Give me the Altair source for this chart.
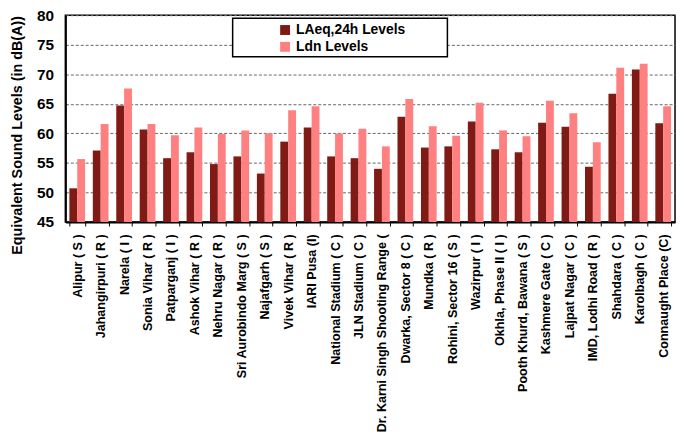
import altair as alt
import pandas as pd

stations = [
    "Alipur ( S )", "Jahangirpuri ( R )", "Narela ( I )", "Sonia Vihar ( R )",
    "Patparganj ( I )", "Ashok Vihar ( R )", "Nehru Nagar ( R )",
    "Sri Aurobindo Marg ( S )", "Najafgarh ( S )", "Vivek Vihar ( R )",
    "IARI Pusa (I)", "National Stadium ( C )", "JLN Stadium ( C )",
    "Dr. Karni Singh Shooting Range (", "Dwarka, Sector 8 ( C )", "Mundka ( R )",
    "Rohini, Sector 16 ( S )", "Wazirpur ( I )", "Okhla, Phase II ( I )",
    "Pooth Khurd, Bawana ( S )", "Kashmere Gate ( C )", "Lajpat Nagar ( C )",
    "IMD, Lodhi Road ( R )", "Shahdara ( C )", "Karolbagh ( C )",
    "Connaught Place (C)",
]
laeq = [50.7, 57.1, 64.7, 60.65, 55.8, 56.8, 54.8, 56.1, 53.2, 58.6, 61.0, 56.1,
        55.8, 54.0, 62.8, 57.6, 57.8, 62.0, 57.3, 56.8, 61.8, 61.1, 54.35, 66.7,
        70.8, 61.7]
ldn = [55.65, 61.6, 67.6, 61.6, 59.7, 61.0, 59.9, 60.5, 60.0, 63.9, 64.6, 60.0,
       60.8, 57.8, 65.8, 61.2, 59.6, 65.2, 60.5, 59.5, 65.5, 63.4, 58.5, 71.1,
       71.8, 64.6]
series_names = ["LAeq,24h Levels", "Ldn Levels"]
colors = ["#7F1A14", "#FF8080"]
y_ticks = [45, 50, 55, 60, 65, 70, 75, 80]

rows = []
for i, s in enumerate(stations):
    rows.append({"station": s, "series": series_names[0], "value": laeq[i]})
    rows.append({"station": s, "series": series_names[1], "value": ldn[i]})
df = pd.DataFrame(rows)

FONT = "Liberation Sans"

bars = alt.Chart(df).mark_bar().encode(
    x=alt.X(
        "station:N", sort=stations,
        scale=alt.Scale(paddingInner=0.33, paddingOuter=0.17),
        axis=alt.Axis(
            title=None, labelAngle=-90, labelFont=FONT, labelFontWeight="bold",
            labelFontSize=12.7, labelColor="black", labelPadding=8, labelLimit=400,
            ticks=True, tickBand="extent", tickSize=4, tickColor="black",
            domainColor="black", domainWidth=2, grid=False,
        ),
    ),
    xOffset=alt.XOffset("series:N", sort=series_names,
                        scale=alt.Scale(paddingInner=0, paddingOuter=0)),
    y=alt.Y(
        "value:Q",
        scale=alt.Scale(domain=[45, 80], nice=False, zero=False),
        axis=alt.Axis(
            values=y_ticks, title="Equivalent Sound Levels  (in dB(A))",
            titleFont=FONT, titleFontSize=14.5, titleFontWeight="bold",
            titleColor="black", titleAngle=270, titleAlign="center",
            titleBaseline="middle", titleX=-48, titleY=121,
            labelFont=FONT, labelFontSize=15.5, labelFontWeight="bold",
            labelColor="black", labelPadding=12, ticks=False,
            domainColor="black", domainWidth=2,
            grid=True, gridDash=[3, 2], gridColor="#666666", gridWidth=1,
        ),
    ),
    y2=alt.datum(45),
    color=alt.Color(
        "series:N",
        scale=alt.Scale(domain=series_names, range=colors),
        legend=alt.Legend(
            title=None, orient="none", legendX=215, legendY=8,
            symbolType="square", symbolSize=100, symbolStrokeWidth=0,
            labelFont=FONT, labelFontSize=14, labelFontWeight="bold",
            labelColor="black", rowPadding=3, padding=0, labelOffset=4,
        ),
    ),
)

legend_box = alt.Chart(pd.DataFrame({"k": [0]})).mark_rect(
    fill="white", stroke="black", strokeWidth=1.5
).encode(
    x=alt.value(169), x2=alt.value(386), y=alt.value(3), y2=alt.value(42)
)

chart = alt.layer(bars, legend_box).properties(
    width=616, height=209,
    padding={"left": 58, "top": 5, "right": 2, "bottom": 215},
    autosize="none",
).configure_view(stroke="black", strokeWidth=1.5)

chart.save("out.html", embed_options={"renderer": "svg", "actions": False})
